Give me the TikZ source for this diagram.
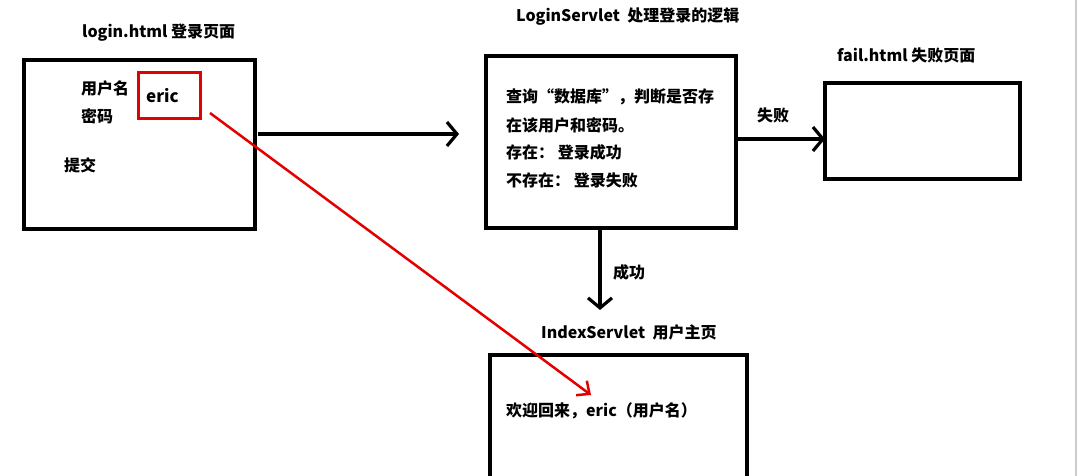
\documentclass[tikz,border=0pt]{standalone}
\usepackage{fontspec}
\setmainfont{Noto Sans CJK SC}
\usetikzlibrary{arrows.meta}
\begin{document}
\begin{tikzpicture}[x=1pt,y=-1pt,
  box/.style={draw=black,line width=4pt},
  lbl/.style={font=\fontsize{16}{18}\selectfont\bfseries,anchor=west,inner sep=0pt},
  arr/.style={line width=3.2pt,-{Straight Barb[length=10pt,width=24pt]}}]
\useasboundingbox (0,0) rectangle (1081,476);
\fill[white] (0,0) rectangle (1081,476);
\draw[gray!40,line width=1.5pt] (1076,0) -- (1076,476);
% boxes
\node[box,minimum width=231pt,minimum height=169pt,inner sep=0pt] (login) at (139.5,144.5) {};
\node[box,draw=red!90!black,line width=3pt,minimum width=62pt,minimum height=46pt,inner sep=0pt] (inp) at (169,96) {};
\node[box,minimum width=250pt,minimum height=172pt,inner sep=0pt] (srv) at (611,142) {};
\node[box,minimum width=195pt,minimum height=96pt,inner sep=0pt] (fail) at (922.5,131) {};
\node[box,minimum width=257pt,minimum height=130pt,inner sep=0pt] (idx) at (618.5,420) {};
% titles
\node[lbl] (t1) at (82,33) {login.html 登录页面};
\node[lbl] (t2) at (516,17) {LoginServlet\ \ 处理登录的逻辑};
\node[lbl] (t3) at (837,55) {fail.html 失败页面};
\node[lbl] (t4) at (541,332) {IndexServlet\ \ 用户主页};
% login contents
\node[lbl] (u) at (81,88) {用户名};
\node[lbl] (p) at (81,116) {密码};
\node[lbl] (s) at (64,165) {提交};
\node[lbl,font=\fontsize{17}{19}\selectfont\bfseries] (e) at (146,96) {eric};
% servlet contents
\node[lbl] (l1) at (506,97) {查询“数据库”，判断是否存};
\node[lbl] (l2) at (506,125) {在该用户和密码。};
\node[lbl] (l3) at (506,152) {存在： 登录成功};
\node[lbl] (l4) at (506,180) {不存在： 登录失败};
\node[lbl] (w) at (506,411) {欢迎回来，eric（用户名）};
% connectors
\coordinate (a1) at (258,134);
\coordinate (a2) at (459,134);
\draw[arr] (a1) -- (a2);
\coordinate (b1) at (737,139);
\coordinate (b2) at (825,139);
\draw[arr] (b1) -- (b2);
\node[lbl] (fl) at (757,115) {失败};
\coordinate (c1) at (600,229);
\coordinate (c2) at (600,310);
\draw[arr] (c1) -- (c2);
\node[lbl] (cg) at (613,272) {成功};
\coordinate (r1) at (210,113);
\coordinate (r2) at (591,395);
\draw[red!90!black,line width=2.5pt,-{Straight Barb[length=10pt,width=18pt]}] (r1) -- (r2);
\end{tikzpicture}
\end{document}
